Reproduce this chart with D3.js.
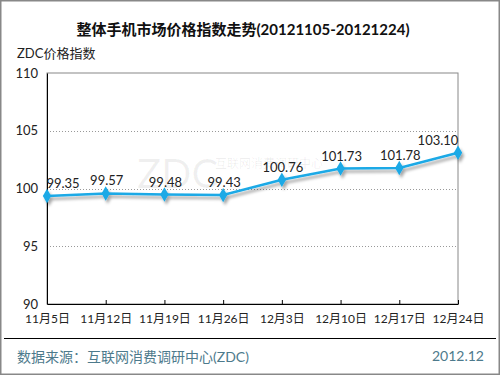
<!DOCTYPE html>
<html>
<head>
<meta charset="utf-8">
<script src="https://cdn.jsdelivr.net/npm/d3@7"></script>
<style>
  body { margin: 0; background: #fff; }
  text { font-family: "Lato", "Noto Sans CJK SC", sans-serif; }
</style>
</head>
<body>
<div id="chart"></div>
<script>
const dates = ["11月5日", "11月12日", "11月19日", "11月26日", "12月3日", "12月10日", "12月17日", "12月24日"];
const values = [99.35, 99.57, 99.48, 99.43, 100.76, 101.73, 101.78, 103.10];
const yTicks = [90, 95, 100, 105, 110];

const width = 500, height = 375;
const margin = { top: 73, right: 42, bottom: 71, left: 47 };

const svg = d3.select("#chart").append("svg")
    .attr("width", width)
    .attr("height", height);

// outer frame
svg.append("rect")
    .attr("x", 0.5).attr("y", 0.5)
    .attr("width", width - 1).attr("height", height - 1)
    .attr("fill", "#fff")
    .attr("stroke", "#888")
    .attr("stroke-width", 2);

let defs = svg.append("defs");
let shadow = defs.append("filter").attr("id", "shadow")
    .attr("x", "-20%").attr("y", "-50%").attr("width", "140%").attr("height", "200%");
shadow.append("feDropShadow")
    .attr("dx", 2).attr("dy", 3).attr("stdDeviation", 1.5)
    .attr("flood-color", "#000").attr("flood-opacity", 0.35);

const xScale = d3.scalePoint()
    .domain(dates)
    .range([margin.left, width - margin.right]);

const yScale = d3.scaleLinear()
    .domain([90, 110])
    .range([height - margin.bottom, margin.top]);

// title
svg.append("text")
    .attr("x", 243).attr("y", 35)
    .attr("text-anchor", "middle")
    .attr("font-size", 15)
    .attr("font-weight", "bold")
    .attr("fill", "#111")
    .text("整体手机市场价格指数走势(20121105-20121224)");

svg.append("text")
    .attr("x", 17).attr("y", 58)
    .attr("font-size", 13)
    .attr("fill", "#222")
    .text("ZDC价格指数");

// faint watermark behind the plot
svg.append("text")
    .attr("x", 137).attr("y", 188)
    .attr("font-size", 40)
    .attr("fill", "#000")
    .attr("fill-opacity", 0.06)
    .attr("font-family", "DejaVu Sans")
    .text("ZDC");
svg.append("text")
    .attr("x", 215).attr("y", 168)
    .attr("font-size", 12)
    .attr("fill", "#000")
    .attr("fill-opacity", 0.07)
    .text("互联网消费调研中心");

// plot border (top & right gray)
svg.append("rect")
    .attr("x", margin.left).attr("y", margin.top)
    .attr("width", width - margin.right - margin.left)
    .attr("height", height - margin.bottom - margin.top)
    .attr("fill", "none")
    .attr("stroke", "#888");

// gridlines
svg.append("g")
    .selectAll("line")
    .data(yTicks.filter(d => d > 90 && d < 110))
    .join("line")
    .attr("x1", margin.left).attr("x2", width - margin.right)
    .attr("y1", d => Math.round(yScale(d)) + 0.5)
    .attr("y2", d => Math.round(yScale(d)) + 0.5)
    .attr("stroke", "#999")
    .attr("stroke-dasharray", "1,2");

// y axis
let yAxis = d3.axisLeft(yScale).tickValues(yTicks).tickSize(0).tickPadding(9);
let yAxisGroup = svg.append("g")
    .attr("transform", `translate(${margin.left},0)`)
    .call(yAxis);
yAxisGroup.select(".domain").attr("stroke", "#000");
yAxisGroup.selectAll("text")
    .attr("font-size", 13)
    .attr("fill", "#222")
    .attr("font-family", "Lato, sans-serif");

// x axis, ticks pointing inward
let xAxis = d3.axisBottom(xScale).tickSize(-4).tickPadding(10).tickSizeOuter(0);
let xAxisGroup = svg.append("g")
    .attr("transform", `translate(0,${height - margin.bottom})`)
    .call(xAxis);
xAxisGroup.select(".domain").attr("stroke", "#000");
xAxisGroup.selectAll(".tick line").attr("stroke", "#000");
xAxisGroup.selectAll("text")
    .attr("font-size", 12)
    .attr("fill", "#222");

// line
const points = dates.map((d, i) => ({ date: d, value: values[i] }));
const line = d3.line()
    .x(d => xScale(d.date))
    .y(d => yScale(d.value));

let series = svg.append("g").attr("filter", "url(#shadow)");
series.append("path")
    .datum(points)
    .attr("d", line)
    .attr("fill", "none")
    .attr("stroke", "#1aa9e6")
    .attr("stroke-width", 2.5);

series.selectAll("path.marker")
    .data(points)
    .join("path")
    .attr("class", "marker")
    .attr("d", d3.symbol().type(d3.symbolDiamond).size(60))
    .attr("transform", d => `translate(${xScale(d.date)},${yScale(d.value)})`)
    .attr("fill", "#1aa9e6");

// value labels
svg.append("g")
    .selectAll("text")
    .data(points)
    .join("text")
    .attr("x", (d, i) => {
        let x = xScale(d.date);
        if (i == 0) return x + 16;
        if (i == points.length - 1) return x - 20;
        return x + 1;
    })
    .attr("y", d => yScale(d.value) - 8)
    .attr("text-anchor", "middle")
    .attr("font-size", 13)
    .attr("fill", "#222")
    .attr("font-family", "Lato, sans-serif")
    .text(d => d.value.toFixed(2));

// footer
svg.append("line")
    .attr("x1", 4).attr("x2", 496)
    .attr("y1", 338.5).attr("y2", 338.5)
    .attr("stroke", "#000");

svg.append("text")
    .attr("x", 17).attr("y", 362)
    .attr("font-size", 14)
    .attr("fill", "#4d7a8c")
    .text("数据来源：互联网消费调研中心(ZDC)");

svg.append("text")
    .attr("x", 484).attr("y", 361)
    .attr("text-anchor", "end")
    .attr("font-size", 14)
    .attr("fill", "#4d7a8c")
    .attr("font-family", "Lato, sans-serif")
    .text("2012.12");
</script>
</body>
</html>
